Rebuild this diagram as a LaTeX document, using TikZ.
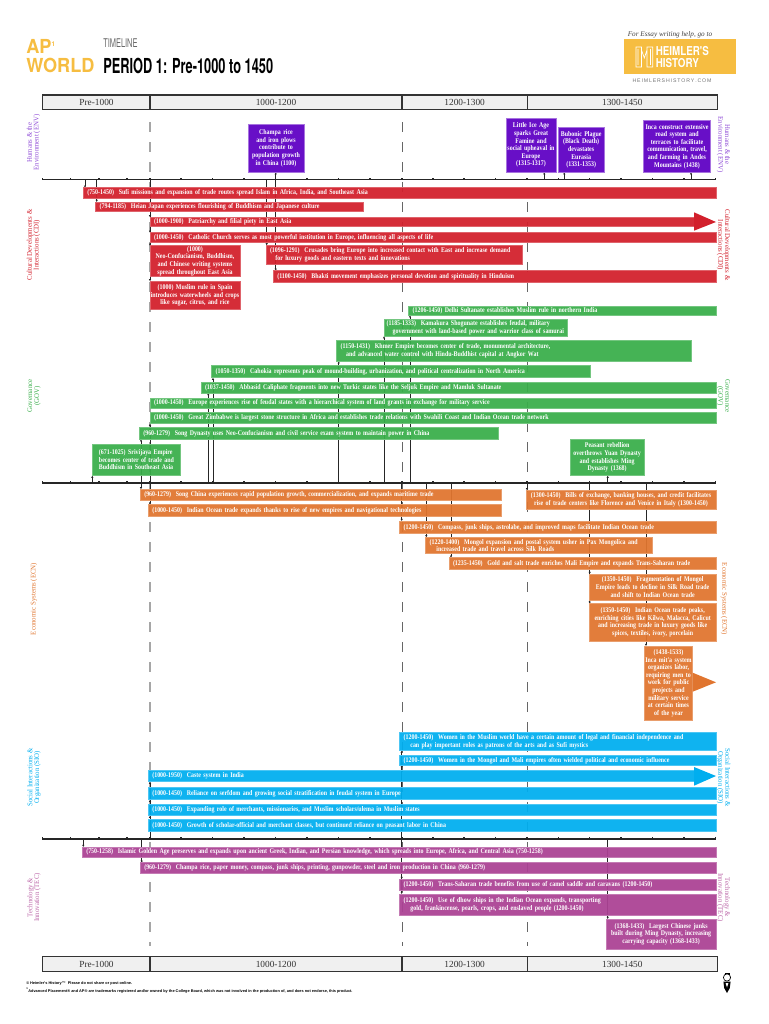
\documentclass[tikz,border=0pt]{standalone}
\usepackage{fontspec}
\usetikzlibrary{arrows.meta,backgrounds}
\setmainfont{Liberation Serif}
\newfontfamily\barface{Liberation Serif}[FakeStretch=0.825]
\newfontfamily\sideface{Liberation Serif}[FakeStretch=0.95]
\newfontfamily\headface{TeX Gyre Heros}[FakeStretch=0.62]
\newfontfamily\brandface{TeX Gyre Heros}[FakeStretch=0.94]
\newfontfamily\logoface{TeX Gyre Heros}[FakeStretch=0.8]
\newfontfamily\smallface{Liberation Sans}
\definecolor{envcol}{HTML}{5F00C4}
\definecolor{cultcol}{HTML}{D2202C}
\definecolor{govcol}{HTML}{39AE4A}
\definecolor{econcol}{HTML}{E0752F}
\definecolor{soccol}{HTML}{00AEEF}
\definecolor{techcol}{HTML}{AB4294}
\definecolor{brandcol}{HTML}{F6BD41}
\tikzset{
    evbar/.style={rectangle,anchor=north west,inner xsep=3pt,inner ysep=0pt,outer sep=0pt,align=left,
        line width=0.4pt,fill opacity=0.94,text opacity=1,text=white,font=\barface\bfseries\fontsize{5.4}{5.7}\selectfont},
    span/.style 2 args={text width=#1*0.75pt-6pt,minimum height=#2*0.75pt},
    boxspan/.style 2 args={inner xsep=0.3pt,align=center,text width=#1*0.75pt-0.6pt,minimum height=#2*0.75pt},
    envbar/.style={evbar,fill=envcol,draw=envcol!55!white},
    cultbar/.style={evbar,fill=cultcol,draw=cultcol!70!white},
    govbar/.style={evbar,fill=govcol,draw=govcol!70!white},
    econbar/.style={evbar,fill=econcol,draw=econcol!70!white},
    socbar/.style={evbar,fill=soccol,draw=soccol!70!white},
    techbar/.style={evbar,fill=techcol,draw=techcol!70!white},
    bandcell/.style={rectangle,draw=black!80,line width=0.9pt,fill=black!6,anchor=north west,outer sep=0pt,inner sep=0pt,
        text height=5pt,text depth=0pt,minimum height=14.6*0.75pt,font=\fontsize{7}{8}\selectfont,text=black!80},
    brandtext/.style={anchor=west,inner sep=0pt,text=brandcol,text height=10pt,text depth=0pt,font=\brandface\bfseries\fontsize{14.5}{15}\selectfont},
    logotext/.style={anchor=west,inner sep=0pt,text=white,text height=6.5pt,text depth=0pt,font=\logoface\bfseries\fontsize{9.2}{10}\selectfont},
    sideleft/.style={rotate=90,align=center,inner sep=0pt,font=\sideface\fontsize{5.4}{5.2}\selectfont},
    sideright/.style={rotate=-90,align=center,inner sep=0pt,font=\sideface\fontsize{5.4}{5.2}\selectfont},
    stem/.style={draw=black!85,line width=0.7pt,-{Latex[length=1.6pt,width=1.8pt]}},
    axisline/.style={draw=black!85,line width=0.8pt},
}
\begin{document}
\begin{tikzpicture}[x=0.75pt,y=-0.75pt]
        \useasboundingbox (0,0) rectangle (768,1024);
        %% Title block
        \node[brandtext] (brandA) at (26,47) {AP\raisebox{5.5pt}{\fontsize{5}{5}\selectfont 1}};
        \node[brandtext] (brandB) at (26,66) {WORLD};
        \node[anchor=west,inner sep=0pt,text=black!60,font=\headface\fontsize{9}{10}\selectfont] (kicker) at (103,43.5) {TIMELINE};
        \node[anchor=west,inner sep=0pt,font=\headface\bfseries\fontsize{15.5}{16}\selectfont] (title) at (103,65.5) {PERIOD 1: Pre-1000 to 1450};
        %% Logo
        \node[anchor=center,inner sep=0pt,text=black!75,font=\itshape\fontsize{5.4}{6}\selectfont] (helpnote) at (670,34.5) {For Essay writing help, go to};
        \node[rectangle,fill=brandcol,anchor=north west,inner sep=0pt,minimum width=84pt,minimum height=26.3pt] (logo) at (624,39) {};
        \node[logotext] (logoA) at (655.5,51.5) {HEIMLER'S};
        \node[logotext] (logoB) at (655.5,63) {HISTORY};
        \draw[white,line width=0.5pt] (636,47) rectangle (641.5,67) (647,47) rectangle (652.7,67) (638,49) -- (638,65) (650.5,49) -- (650.5,65) (641.5,50) -- (644.3,58) -- (647,50);
        \node[anchor=center,inner sep=0pt,text=black!55,font=\smallface\fontsize{3.9}{4}\selectfont] (logourl) at (672,80.5) {H\,E\,I\,M\,L\,E\,R\,S\,H\,I\,S\,T\,O\,R\,Y\,.\,C\,O\,M};
        %% Period bands
        \node[bandcell,minimum width=81pt] (topA) at (42.5,95) {Pre-1000};
        \node[bandcell,minimum width=189pt] (topB) at (150,95) {1000-1200};
        \node[bandcell,minimum width=94pt] (topC) at (402,95) {1200-1300};
        \node[bandcell,minimum width=142.5pt] (topD) at (527.3,95) {1300-1450};
        \node[bandcell,minimum width=81pt] (botA) at (42.5,956.7) {Pre-1000};
        \node[bandcell,minimum width=189pt] (botB) at (150,956.7) {1000-1200};
        \node[bandcell,minimum width=94pt] (botC) at (402,956.7) {1200-1300};
        \node[bandcell,minimum width=142.5pt] (botD) at (527.3,956.7) {1300-1450};
        %% Theme labels
        \node[sideleft,text=envcol!70!white] (sideEnvL) at (33.5,142.5) {Humans \& the\\Environment (ENV)};
        \node[sideright,text=envcol!70!white] (sideEnvR) at (723.5,144.5) {Humans \& the\\Environment (ENV)};
        \node[sideleft,text=cultcol] (sideCultL) at (33.5,245) {Cultural Developments \&\\Interactions (CDI)};
        \node[sideright,text=cultcol] (sideCultR) at (723.5,245) {Cultural Developments \&\\Interactions (CDI)};
        \node[sideleft,text=govcol] (sideGovL) at (34,396) {Governance\\(GOV)};
        \node[sideright,text=govcol] (sideGovR) at (723.5,396) {Governance\\(GOV)};
        \node[sideleft,text=econcol] (sideEconL) at (34,599) {Economic Systems (ECN)};
        \node[sideright,text=econcol] (sideEconR) at (724,599) {Economic Systems (ECN)};
        \node[sideleft,text=soccol] (sideSocL) at (34,777.5) {Social Interactions \&\\Organization (SIO)};
        \node[sideright,text=soccol] (sideSocR) at (723.5,777.5) {Social Interactions \&\\Organization (SIO)};
        \node[sideleft,text=techcol!80!white] (sideTechL) at (34,897.5) {Technology \&\\Innovation (TEC)};
        \node[sideright,text=techcol!80!white] (sideTechR) at (723.5,897.5) {Technology \&\\Innovation (TEC)};
        %% Humans and the environment
        \node[envbar,boxspan={56}{48.3}] (envA) at (248,124) {Champa rice\\and iron plows\\contribute to\\population growth\\in China (1100)};
        \node[envbar,boxspan={50}{54.3}] (envB) at (506,118) {Little Ice Age\\sparks Great\\Famine and\\social upheaval in\\Europe\\(1315-1317)};
        \node[envbar,boxspan={46.3}{45}] (envC) at (558,127.3) {Bubonic Plague\\(Black Death)\\devastates\\Eurasia\\(1331-1353)};
        \node[envbar,boxspan={67.4}{52}] (envD) at (643.3,120.3) {Inca construct extensive\\road system and\\terraces to facilitate\\communication, travel,\\and farming in Andes\\Mountains (1438)};
        %% Cultural developments
        \node[cultbar,span={632.7}{10.6}] (cultA) at (83.3,187.7) {(750-1450)\ \ Sufi missions and expansion of trade routes spread Islam in Africa, India, and Southeast Asia};
        \node[cultbar,span={267.6}{9.3}] (cultB) at (95.7,202) {(794-1185)\ \ Heian Japan experiences flourishing of Buddhism and Japanese culture};
        \node[cultbar,span={544}{9.4}] (cultC) at (150,217.3) {(1000-1900)\ \ Patriarchy and filial piety in East Asia};
        \fill[cultcol] (694,212.3) -- (716,222) -- (694,230.7) -- cycle;
        \node[cultbar,span={566}{9.3}] (cultD) at (150,232.7) {(1000-1450)\ \ Catholic Church serves as most powerful institution in Europe, influencing all aspects of life};
        \node[cultbar,span={256}{19}] (cultE) at (266,245.3) {(1096-1291)\ \ Crusades bring Europe into increased contact with East and increase demand\\\hspace*{4pt}for luxury goods and eastern texts and innovations};
        \node[cultbar,span={442.7}{11.3}] (cultF) at (273.3,270.7) {(1100-1450)\ \ Bhakti movement emphasizes personal devotion and spirituality in Hinduism};
        \node[cultbar,boxspan={90}{30.6}] (cultG) at (150,245.7) {(1000)\\Neo-Confucianism, Buddhism,\\and Chinese writing systems\\spread throughout East Asia};
        \node[cultbar,boxspan={90}{28}] (cultH) at (150,281.3) {(1000) Muslim rule in Spain\\\makebox[\linewidth][c]{introduces waterwheels and crops}\\like sugar, citrus, and rice};
        %% Governance
        \node[govbar,span={307.3}{9.3}] (govA) at (408.7,306) {(1206-1450) Delhi Sultanate establishes Muslim rule in northern India};
        \node[govbar,span={183}{17.3}] (govB) at (384,319) {\hspace*{-1pt}(1185-1333)\ \ Kamakura Shogunate establishes feudal, military\\\mbox{\hspace*{3.5pt}government with land-based power and warrior class of samurai}};
        \node[govbar,span={354.6}{21.3}] (govC) at (336.7,340) {(1150-1431)\ \ Khmer Empire becomes center of trade, monumental architecture,\\\hspace*{4pt}and advanced water control with Hindu-Buddhist capital at Angkor Wat};
        \node[govbar,span={378.3}{12.7}] (govD) at (211.7,365) {(1050-1350)\ \ Cahokia represents peak of mound-building, urbanization, and political centralization in North America};
        \node[govbar,span={515}{10.7}] (govE) at (201,382.3) {(1037-1450)\ \ Abbasid Caliphate fragments into new Turkic states like the Seljuk Empire and Mamluk Sultanate};
        \node[govbar,span={566}{10.3}] (govF) at (150,398) {(1000-1450)\ \ Europe experiences rise of feudal states with a hierarchical system of land grants in exchange for military service};
        \node[govbar,span={566}{11.4}] (govG) at (150,412.3) {(1000-1450)\ \ Great Zimbabwe is largest stone structure in Africa and establishes trade relations with Swahili Coast and Indian Ocean trade network};
        \node[govbar,span={358.7}{11.6}] (govH) at (139.3,427.7) {(960-1279)\ \ Song Dynasty uses Neo-Confucianism and civil service exam system to maintain power in China};
        \node[govbar,span={88.4}{31.7}] (govI) at (92.3,444) {\hspace*{2pt}(671-1025) Srivijaya Empire\\\hspace*{2pt}becomes center of trade and\\\hspace*{2pt}Buddhism in Southeast Asia};
        \node[govbar,boxspan={74.3}{36.4}] (govJ) at (570,439.3) {Peasant rebellion\\overthrows Yuan Dynasty\\and establishes Ming\\Dynasty (1368)};
        %% Economic systems
        \node[econbar,span={360.7}{11.4}] (econA) at (140.3,489.3) {(960-1279)\ \ Song China experiences rapid population growth, commercialization, and expands maritime trade};
        \node[econbar,span={352.7}{11.3}] (econB) at (148.3,504.7) {(1000-1450)\ \ Indian Ocean trade expands thanks to rise of new empires and navigational technologies};
        \node[econbar,boxspan={190}{18.7}] (econC) at (526,490.3) {(1300-1450)\ \ Bills of exchange, banking houses, and credit facilitates\\rise of trade centers like Florence and Venice in Italy (1300-1450)};
        \node[econbar,span={316.3}{12.7}] (econD) at (399.7,521) {(1200-1450)\ \ Compass, junk ships, astrolabe, and improved maps facilitate Indian Ocean trade};
        \node[econbar,span={226.6}{16.4}] (econE) at (425.7,537.3) {(1220-1400)\ \ Mongol expansion and postal system usher in Pax Mongolica and\\\hspace*{5pt}increased trade and travel across Silk Roads};
        \node[econbar,span={267}{11.3}] (econF) at (449,557.7) {(1235-1450)\ \ Gold and salt trade enriches Mali Empire and expands Trans-Saharan trade};
        \node[econbar,boxspan={126.7}{26}] (econG) at (589.3,574) {(1350-1450)\ \ Fragmentation of Mongol\\Empire leads to decline in Silk Road trade\\and shift to Indian Ocean trade};
        \node[econbar,boxspan={126.7}{37.3}] (econH) at (589.3,603.7) {(1350-1450)\ \ Indian Ocean trade peaks,\\enriching cities like Kilwa, Malacca, Calicut\\and increasing trade in luxury goods like\\spices, textiles, ivory, porcelain};
        \node[econbar,boxspan={48.4}{74.3}] (econI) at (644.3,646) {(1438-1533)\\Inca mit'a system\\organizes labor,\\requiring men to\\work for public\\projects and\\military service\\at certain times\\of the year};
        \fill[econcol] (692.7,672.7) -- (716,682.3) -- (692.7,691.7) -- cycle;
        %% Social interactions
        \node[socbar,span={316.3}{18.4}] (socA) at (399.7,732.3) {(1200-1450)\ \ Women in the Muslim world have a certain amount of legal and financial independence and\\\hspace*{5pt}can play important roles as patrons of the arts and as Sufi mystics};
        \node[socbar,span={316.3}{9.3}] (socB) at (399.7,755.7) {(1200-1450)\ \ Women in the Mongol and Mali empires often wielded political and economic influence};
        \node[socbar,span={545.7}{11.4}] (socC) at (148.3,770.3) {(1000-1950)\ \ Caste system in India};
        \fill[soccol] (694,767) -- (716,776) -- (694,785.7) -- cycle;
        \node[socbar,span={567.7}{12}] (socD) at (148.3,787.7) {(1000-1450)\ \ Reliance on serfdom and growing social stratification in feudal system in Europe};
        \node[socbar,span={567.7}{11.4}] (socE) at (148.3,804.3) {(1000-1450)\ \ Expanding role of merchants, missionaries, and Muslim scholars/ulema in Muslim states};
        \node[socbar,span={567.7}{11.3}] (socF) at (148.3,819.7) {(1000-1450)\ \ Growth of scholar-official and merchant classes, but continued reliance on peasant labor in China};
        %% Technology
        \node[techbar,span={633.7}{10.3}] (techA) at (82.3,847) {(750-1258)\ \ Islamic Golden Age preserves and expands upon ancient Greek, Indian, and Persian knowledge, which spreads into Europe, Africa, and Central Asia (750-1258)};
        \node[techbar,span={575.7}{11}] (techB) at (140.3,862.7) {(960-1279)\ \ Champa rice, paper money, compass, junk ships, printing, gunpowder, steel and iron production in China (960-1279)};
        \node[techbar,span={316.3}{11.3}] (techC) at (399.7,879) {(1200-1450)\ \ Trans-Saharan trade benefits from use of camel saddle and caravans (1200-1450)};
        \node[techbar,span={316.3}{21.3}] (techD) at (399.7,894) {(1200-1450)\ \ Use of dhow ships in the Indian Ocean expands, transporting\\\hspace*{5pt}gold, frankincense, pearls, crops, and enslaved people (1200-1450)};
        \node[techbar,boxspan={109.7}{30.3}] (techE) at (606.3,919) {(1368-1433)\ \ Largest Chinese junks\\built during Ming Dynasty, increasing\\carrying capacity (1368-1433)};
        %% Axes, stems and period dashes sit behind the bars
        \begin{scope}[on background layer]
            \draw[black!35,line width=1pt,dash pattern=on 7.5pt off 7.5pt] (150,122) -- (150,946);
            \draw[black!60,line width=0.6pt,dash pattern=on 7.5pt off 7.5pt] (402,122) -- (402,946);
            \draw[black!60,line width=0.6pt,dash pattern=on 7.5pt off 7.5pt] (527.3,202) -- (527.3,946);
            \foreach \ay in {179.7,483,839} {
                \draw[axisline] (42,\ay) -- (716,\ay);
                \foreach \tx in {42.3,70.5,99,127,150,181,212.7,244,275.5,307,338.7,370,402,433,464,495.3,527,558.3,589.7,621,652.7,684,715.7}
                    \draw[axisline] (\tx,\ay) -- ++(0,-2.2);
            }
            \foreach \nm/\px in {a750/85,a794/96.7,a1000/150,a1096/266.7,a1100/275.7,a1315/544.3,a1331/564.3,a1438/691}
                \coordinate (\nm) at (\px,179.7);
            \foreach \nm/\px in {b671/92.3,b960/141,b1000/150,b1037/208.3,b1050/213,b1150/338.7,b1185/384,b1200/401.7,b1206/410,b1220/426.3,b1235/451,b1300/527,b1350/589.7,b1368/607.7,b1438/646}
                \coordinate (\nm) at (\px,483);
            \foreach \nm/\px in {c750/83.3,c960/141.7,c1000/150,c1200/401.7,c1368/607.7}
                \coordinate (\nm) at (\px,839);
            \foreach \st/\bx in {a1100/envA,a1315/envB,a1331/envC,a1438/envD,b671/govI,b960/govH,b1000/govG,b1037/govE,b1050/govD,b1150/govC,b1185/govB,b1206/govA,b1368/govJ,c1000/socC,c1000/socD,c1000/socE,c1200/socA,c1200/socB}
                \draw[stem] (\st) -- (\st |- \bx.south);
            \foreach \st/\bx in {a750/cultA,a794/cultB,a1000/cultC,a1000/cultD,a1000/cultG,a1000/cultH,a1096/cultE,a1100/cultF,b960/econA,b1000/econB,b1200/econD,b1220/econE,b1235/econF,b1300/econC,b1350/econG,b1350/econH,b1438/econI,c750/techA,c960/techB,c1200/techC,c1200/techD,c1368/techE}
                \draw[stem] (\st) -- (\st |- \bx.north);
        \end{scope}
        %% Footer
        \node[anchor=west,inner sep=0pt,font=\smallface\bfseries\fontsize{2.9}{3}\selectfont] (footA) at (26,983.3) {© Heimler's History\texttrademark{}\ \ Please do not share or post online.};
        \node[anchor=west,inner sep=0pt,font=\smallface\bfseries\fontsize{2.9}{3}\selectfont] (footB) at (26,990.3) {\textsuperscript{1}Advanced Placement® and AP® are trademarks registered and/or owned by the College Board, which was not involved in the production of, and does not endorse, this product.};
        %% Bulb
        \draw[black,line width=0.5pt] (727,977.5) circle (3.6);
        \draw[black,line width=0.4pt] (725,974.5) -- (725,972.8) -- (729,972.8) -- (729,974.5);
        \fill[black] (723.4,981.5) -- (730.6,981.5) -- (729.8,988) -- (727,993) -- (724.2,988) -- cycle;
        \fill[white] (725.6,983) -- (728.4,983) -- (727,987.5) -- cycle;
    \end{tikzpicture}
\end{document}
